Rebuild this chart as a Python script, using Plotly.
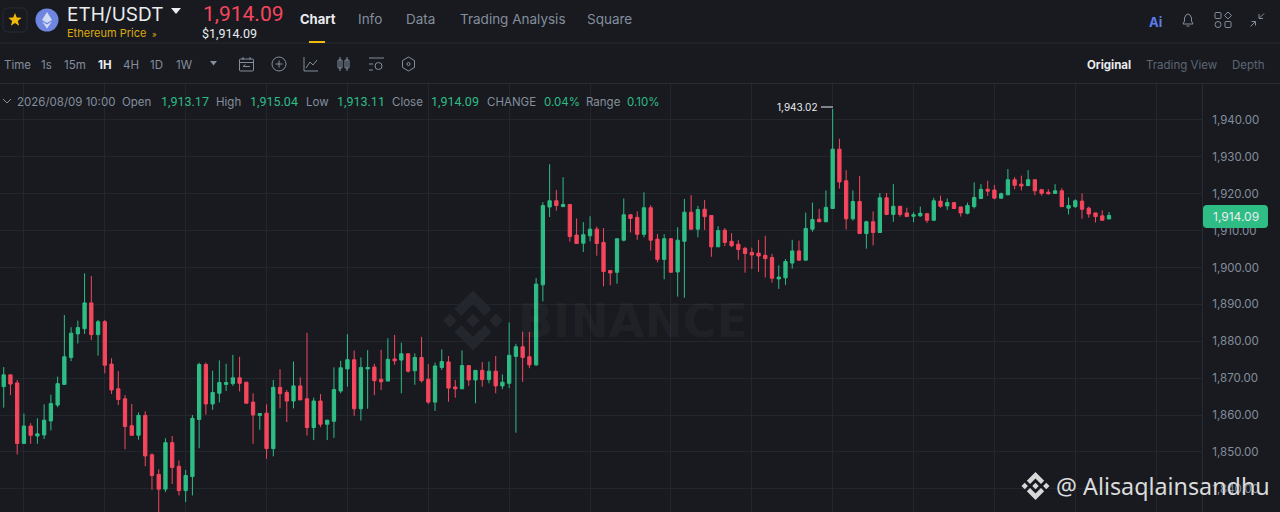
import math
import plotly.graph_objects as go

W, H = 1280, 512
BG = "#181A20"
GREEN = "#2EBD85"
RED = "#F6465D"
GREY = "#848E9C"
SEP = "#272B32"
GRID = "#22272D"
FONT = "Inter"
NUM_FONT = "Roboto"

opens = [1867.7, 1870.9, 1868.7, 1852.3, 1857.0, 1854.3, 1854.6, 1858.4, 1862.7, 1868.3, 1875.6, 1882.0, 1883.4, 1890.4, 1881.8,
         1885.3, 1873.8, 1867.1, 1864.4, 1857.1, 1854.5, 1859.9, 1849.2, 1843.9, 1839.9, 1852.5, 1846.1, 1839.5, 1843.3, 1858.8,
         1873.7, 1863.0, 1865.9, 1868.3, 1868.5, 1870.1, 1868.9, 1863.5, 1859.9, 1860.5, 1850.9, 1867.5, 1866.1, 1863.8, 1867.9,
         1864.4, 1856.6, 1863.8, 1857.5, 1858.3, 1866.5, 1872.5, 1875.0, 1861.7, 1872.5, 1873.0, 1869.7, 1869.2, 1875.2, 1874.9,
         1876.6, 1872.0, 1875.6, 1869.7, 1863.5, 1872.9, 1874.4, 1867.6, 1867.1, 1873.4, 1869.5, 1872.1, 1869.6, 1871.9, 1867.9,
         1868.6, 1875.9, 1878.5, 1875.8, 1873.6, 1895.3, 1916.4, 1918.1, 1916.5, 1917.1, 1908.8, 1906.6, 1908.6, 1910.4, 1906.8,
         1899.2, 1898.7, 1907.4, 1914.3, 1913.6, 1909.0, 1916.2, 1907.7, 1902.2, 1907.8, 1898.8, 1907.1, 1915.0, 1910.4, 1915.8,
         1914.1, 1905.6, 1910.1, 1907.1, 1906.3, 1905.2, 1904.1, 1903.9, 1903.3, 1902.7, 1896.9, 1897.2, 1901.2, 1904.5, 1902.0,
         1910.4, 1913.1, 1912.4, 1916.0, 1932.1, 1923.5, 1913.2, 1917.9, 1909.2, 1912.4, 1909.5, 1918.9, 1914.4, 1916.6, 1914.8,
         1913.9, 1914.0, 1914.6, 1912.8, 1918.0, 1916.7, 1917.6, 1916.4, 1914.7, 1916.5, 1918.7, 1921.2, 1921.0, 1918.8, 1919.7,
         1923.8, 1922.6, 1922.2, 1923.8, 1921.1, 1920.4, 1920.1, 1920.8, 1916.1, 1916.5, 1918.0, 1916.1, 1914.8, 1914.0, 1913.17]
highs = [1873.0, 1870.9, 1869.5, 1860.4, 1857.8, 1859.1, 1862.9, 1865.5, 1870.4, 1887.1, 1883.8, 1885.6, 1898.4, 1897.7, 1885.8,
         1885.8, 1875.4, 1871.9, 1865.4, 1863.0, 1860.7, 1861.0, 1849.6, 1845.3, 1853.7, 1854.3, 1847.7, 1845.1, 1860.0, 1874.2,
         1874.2, 1872.0, 1874.8, 1873.9, 1876.3, 1875.8, 1869.0, 1865.9, 1860.4, 1862.9, 1869.5, 1872.4, 1866.8, 1874.5, 1870.2,
         1882.3, 1864.7, 1865.7, 1858.7, 1872.9, 1874.7, 1881.9, 1877.5, 1875.6, 1877.6, 1873.9, 1877.7, 1880.8, 1881.7, 1879.6,
         1876.6, 1876.7, 1881.2, 1873.8, 1874.2, 1877.8, 1876.0, 1869.5, 1877.5, 1873.4, 1872.2, 1874.4, 1874.5, 1876.0, 1871.0,
         1885.1, 1879.3, 1882.6, 1882.5, 1897.2, 1917.7, 1928.0, 1921.0, 1924.5, 1917.2, 1913.3, 1912.3, 1913.9, 1911.1, 1910.7,
         1899.3, 1907.9, 1918.7, 1914.5, 1915.2, 1920.4, 1916.9, 1909.1, 1909.0, 1907.9, 1910.9, 1918.6, 1919.6, 1916.7, 1918.3,
         1914.1, 1911.2, 1910.7, 1909.3, 1907.4, 1905.6, 1905.4, 1907.5, 1908.6, 1903.7, 1900.6, 1902.3, 1907.5, 1907.3, 1914.9,
         1917.6, 1915.9, 1920.9, 1943.02, 1934.9, 1926.4, 1920.9, 1924.8, 1912.7, 1915.2, 1920.2, 1920.2, 1922.6, 1916.6, 1916.2,
         1915.0, 1916.5, 1914.7, 1918.9, 1919.5, 1918.7, 1917.7, 1916.5, 1917.6, 1923.1, 1922.6, 1923.5, 1922.4, 1920.3, 1926.7,
         1924.5, 1924.9, 1926.4, 1923.8, 1921.3, 1921.2, 1922.6, 1921.5, 1919.0, 1918.5, 1920.1, 1916.5, 1914.8, 1915.5, 1915.04]
lows = [1862.0, 1865.4, 1849.3, 1852.3, 1852.2, 1852.2, 1853.5, 1855.8, 1862.1, 1868.3, 1874.6, 1879.4, 1882.0, 1880.3, 1876.1,
        1871.3, 1865.7, 1862.7, 1850.7, 1854.5, 1853.3, 1846.1, 1839.7, 1833.0, 1839.1, 1841.3, 1838.2, 1836.4, 1838.2, 1851.0,
        1860.1, 1861.4, 1863.4, 1866.5, 1867.9, 1866.4, 1863.2, 1852.2, 1856.0, 1848.1, 1848.8, 1861.8, 1858.1, 1861.8, 1864.1,
        1854.4, 1853.2, 1856.7, 1853.2, 1853.8, 1865.9, 1867.7, 1859.8, 1858.5, 1861.7, 1865.4, 1866.8, 1869.2, 1873.6, 1865.9,
        1871.5, 1868.2, 1868.8, 1863.0, 1861.1, 1872.2, 1863.6, 1864.7, 1867.1, 1867.9, 1863.2, 1867.7, 1868.6, 1865.9, 1867.0,
        1867.3, 1855.2, 1869.0, 1872.7, 1873.3, 1890.8, 1913.7, 1915.4, 1916.5, 1907.0, 1906.5, 1904.2, 1907.1, 1903.2, 1894.9,
        1895.2, 1895.6, 1907.1, 1909.5, 1907.5, 1908.2, 1904.6, 1901.4, 1896.8, 1898.7, 1892.1, 1891.8, 1910.2, 1908.2, 1910.2,
        1902.9, 1905.6, 1905.8, 1905.5, 1902.1, 1898.6, 1899.6, 1898.8, 1897.3, 1895.9, 1894.2, 1895.3, 1899.7, 1901.8, 1901.9,
        1909.7, 1912.4, 1912.4, 1916.0, 1921.4, 1910.3, 1912.7, 1909.2, 1905.1, 1906.0, 1909.5, 1914.2, 1912.4, 1913.8, 1913.8,
        1912.3, 1913.8, 1912.1, 1912.8, 1916.2, 1915.6, 1916.0, 1913.8, 1914.4, 1916.0, 1918.7, 1919.4, 1918.5, 1918.6, 1919.7,
        1921.2, 1920.9, 1922.2, 1919.6, 1919.5, 1919.8, 1920.1, 1916.5, 1914.4, 1916.2, 1913.2, 1913.5, 1912.2, 1912.8, 1913.11]
closes = [1870.9, 1868.4, 1852.3, 1857.0, 1854.5, 1854.9, 1858.6, 1863.1, 1868.5, 1875.8, 1882.2, 1883.7, 1890.4, 1881.8, 1885.3,
          1873.5, 1866.8, 1864.2, 1856.9, 1854.5, 1859.9, 1848.9, 1843.6, 1839.9, 1852.5, 1845.8, 1839.5, 1843.6, 1859.1, 1873.7,
          1863.0, 1866.1, 1868.8, 1868.8, 1870.1, 1868.6, 1863.2, 1860.0, 1860.4, 1850.9, 1867.5, 1865.8, 1863.8, 1867.9, 1864.1,
          1856.6, 1863.8, 1857.5, 1858.6, 1866.9, 1872.8, 1875.0, 1861.7, 1872.9, 1872.9, 1869.3, 1869.0, 1875.1, 1874.7, 1876.6,
          1871.9, 1875.6, 1869.3, 1863.5, 1873.3, 1874.5, 1867.3, 1867.1, 1873.4, 1869.5, 1872.1, 1869.6, 1871.9, 1867.9, 1868.9,
          1876.2, 1878.5, 1875.6, 1873.6, 1895.5, 1916.8, 1918.1, 1916.8, 1917.1, 1908.4, 1906.5, 1908.9, 1910.4, 1906.5, 1898.9,
          1898.5, 1907.8, 1914.3, 1913.3, 1909.0, 1916.2, 1907.4, 1902.2, 1907.8, 1898.7, 1907.4, 1915.0, 1910.4, 1915.7, 1913.8,
          1905.6, 1910.0, 1906.8, 1905.9, 1904.9, 1903.8, 1903.4, 1903.1, 1902.4, 1897.1, 1897.4, 1901.6, 1904.5, 1902.0, 1910.6,
          1913.0, 1912.4, 1916.3, 1932.1, 1923.2, 1913.2, 1917.9, 1909.2, 1912.4, 1909.5, 1918.9, 1914.4, 1916.6, 1914.4, 1913.8,
          1914.3, 1914.7, 1912.8, 1918.1, 1916.6, 1917.6, 1916.0, 1914.8, 1916.8, 1919.0, 1921.2, 1920.7, 1918.8, 1920.0, 1923.8,
          1922.3, 1922.1, 1923.8, 1920.8, 1920.1, 1920.0, 1920.8, 1916.5, 1916.8, 1918.1, 1915.8, 1914.5, 1913.8, 1912.8, 1914.09]
candle_ids = list(range(len(opens)))

price_ticks = [1840, 1850, 1860, 1870, 1880, 1890, 1900, 1910, 1920, 1930, 1940]
last_price = "1,914.09"
peak_price = 1943.02

# label rows: text, left px, y px, colour, size, bold, font
header_labels = [
    ("ETH/USDT", 67, 14, "#EAECEF", 19, False, FONT),
    ("1,914.09", 203, 14, RED, 21, False, NUM_FONT),
    ("Ethereum Price", 67, 33, "#DDAA0C", 11, False, FONT),
    ("»", 152, 34, "#DDAA0C", 8, False, FONT),
    ("$1,914.09", 202, 33, "#EAECEF", 12.5, False, NUM_FONT),
    ("Chart", 300, 19, "#EAECEF", 13, True, FONT),
    ("Info", 358, 19, GREY, 13.5, False, FONT),
    ("Data", 406, 19, GREY, 13.5, False, FONT),
    ("Trading Analysis", 460, 19, GREY, 13.5, False, FONT),
    ("Square", 587, 19, GREY, 13.5, False, FONT),
    ("Ai", 1149, 22, "#5C7CE8", 13, True, FONT),
]
toolbar_labels = [
    ("Time", 4, GREY, False), ("1s", 41, GREY, False), ("15m", 64, GREY, False), ("1H", 98, "#EAECEF", True),
    ("4H", 123, GREY, False), ("1D", 150, GREY, False), ("1W", 176, GREY, False),
    ("Original", 1087, "#EAECEF", True), ("Trading View", 1146, "#5E6673", False), ("Depth", 1232, "#5E6673", False),
]
stat_labels = [
    ("2026/08/09 10:00", 17, GREY, FONT, 11.5), ("Open", 122, GREY, FONT, 11.5), ("1,913.17", 161, GREEN, NUM_FONT, 12.5),
    ("High", 216, GREY, FONT, 11.5), ("1,915.04", 250, GREEN, NUM_FONT, 12.5), ("Low", 306, GREY, FONT, 11.5),
    ("1,913.11", 337, GREEN, NUM_FONT, 12.5), ("Close", 392, GREY, FONT, 11.5), ("1,914.09", 431, GREEN, NUM_FONT, 12.5),
    ("CHANGE", 487, GREY, FONT, 11.5), ("0.04%", 544, GREEN, FONT, 11.5), ("Range", 586, GREY, FONT, 11.5),
    ("0.10%", 627, GREEN, FONT, 11.5),
]


def px(x):
    return x / W


def py(y):
    return 1 - y / H


def path_str(points, close=True):
    s = "M " + " L ".join(f"{px(x):.5f} {py(y):.5f}" for x, y in points)
    return s + " Z" if close else s


fig = go.Figure(go.Candlestick(
    x=candle_ids, open=opens, high=highs, low=lows, close=closes,
    increasing=dict(line=dict(color=GREEN, width=1), fillcolor=GREEN),
    decreasing=dict(line=dict(color=RED, width=1), fillcolor=RED),
    whiskerwidth=0, hoverinfo="skip", showlegend=False,
))
fig.update_layout(
    width=W, height=H, autosize=False, margin=dict(l=0, r=0, t=0, b=0),
    paper_bgcolor=BG, plot_bgcolor=BG, boxgap=0.3, showlegend=False,
    font=dict(family=FONT, color=GREY),
    xaxis=dict(domain=[0, 1202 / W], range=[-0.55, 177.8], tick0=3, dtick=12, showticklabels=False,
               gridcolor=GRID, gridwidth=1, zeroline=False, rangeslider=dict(visible=False), showline=False),
    yaxis=dict(domain=[0, 1 - 84 / H], range=[1833.7, 1949.76], side="right", tickvals=price_ticks,
               tickformat=",.2f", tickfont=dict(size=11.5, color=GREY), ticks="outside", ticklen=7,
               tickcolor="rgba(0,0,0,0)", gridcolor=GRID, gridwidth=1, zeroline=False,
               showline=True, linecolor=SEP, linewidth=1),
)


def text(s, x, y, color, size, bold=False, anchor="left", family=FONT):
    fig.add_annotation(text=f"<b>{s}</b>" if bold else s, x=px(x), y=py(y), xref="paper", yref="paper",
                       xanchor=anchor, yanchor="middle", showarrow=False, borderpad=0, borderwidth=0,
                       font=dict(family=family, size=size, color=color))


def line(x0, y0, x1, y1, color=GREY, width=1):
    fig.add_shape(type="line", xref="paper", yref="paper", x0=px(x0), y0=py(y0), x1=px(x1), y1=py(y1),
                  line=dict(color=color, width=width))


def poly(points, fill=None, color=None, width=1, close=True, layer="above"):
    fig.add_shape(type="path", path=path_str(points, close), xref="paper", yref="paper", layer=layer,
                  fillcolor=fill if fill else "rgba(0,0,0,0)",
                  line=dict(color=color if color else "rgba(0,0,0,0)", width=width if color else 0))


def circle(cx, cy, r, fill=None, color=None, width=1):
    fig.add_shape(type="circle", xref="paper", yref="paper", x0=px(cx - r), x1=px(cx + r), y0=py(cy - r), y1=py(cy + r),
                  fillcolor=fill if fill else "rgba(0,0,0,0)",
                  line=dict(color=color if color else "rgba(0,0,0,0)", width=width if color else 0))


def round_rect(x0, y0, x1, y1, r, fill=None, color=None):
    s = (f"M {px(x0 + r):.5f} {py(y0):.5f} L {px(x1 - r):.5f} {py(y0):.5f} Q {px(x1):.5f} {py(y0):.5f} {px(x1):.5f} {py(y0 + r):.5f} "
         f"L {px(x1):.5f} {py(y1 - r):.5f} Q {px(x1):.5f} {py(y1):.5f} {px(x1 - r):.5f} {py(y1):.5f} "
         f"L {px(x0 + r):.5f} {py(y1):.5f} Q {px(x0):.5f} {py(y1):.5f} {px(x0):.5f} {py(y1 - r):.5f} "
         f"L {px(x0):.5f} {py(y0 + r):.5f} Q {px(x0):.5f} {py(y0):.5f} {px(x0 + r):.5f} {py(y0):.5f} Z")
    fig.add_shape(type="path", path=s, xref="paper", yref="paper",
                  fillcolor=fill if fill else "rgba(0,0,0,0)",
                  line=dict(color=color if color else "rgba(0,0,0,0)", width=1 if color else 0))


def binance_logo(cx, cy, r, fill, layer="above"):
    d = 0.23 * r
    for ox in (-0.77 * r, 0, 0.77 * r):
        poly([(cx + ox, cy - d), (cx + ox + d, cy), (cx + ox, cy + d), (cx + ox - d, cy)], fill=fill, layer=layer)
    for sgn in (-1, 1):
        poly([(cx, cy + sgn * r), (cx + 0.62 * r, cy + sgn * 0.38 * r), (cx + 0.39 * r, cy + sgn * 0.15 * r),
              (cx, cy + sgn * 0.54 * r), (cx - 0.39 * r, cy + sgn * 0.15 * r), (cx - 0.62 * r, cy + sgn * 0.38 * r)],
             fill=fill, layer=layer)


# panel separators
line(0, 43, W, 43, SEP)
line(0, 83.5, W, 83.5, SEP)
line(309, 42, 325, 42, "#F0B90B", 2)

# big centre watermark
binance_logo(473, 320.5, 30, "#23262D", layer="below")
text("BINANCE", 518, 321, "rgba(255,255,255,0.045)", 46, True, family="DejaVu Sans")

# star button and coin icon
round_rect(3, 8, 27, 32, 5, color="#272B32")
poly([(15 + (7 if i % 2 == 0 else 3) * math.sin(i * math.pi / 5), 20 - (7 if i % 2 == 0 else 3) * math.cos(i * math.pi / 5))
      for i in range(10)], fill="#F0B90B")
circle(47, 20, 11.5, fill="#6F86E0")
poly([(47, 12), (52, 20), (47, 23), (42, 20)], fill="#D3DAF3")
poly([(47, 24.5), (52, 21.5), (47, 28.5), (42, 21.5)], fill="#D3DAF3")
poly([(171, 8), (181, 8), (176, 14)], fill="#EAECEF")

for label, x, y, color, size, bold, family in header_labels:
    text(label, x, y, color, size, bold, family=family)
for label, x, color, bold in toolbar_labels:
    text(label, x, 64.5, color, 11.5, bold)
for label, x, color, family, size in stat_labels:
    text(label, x, 101.5, color, size, family=family)

# toolbar icons
poly([(210, 61), (217, 61), (213.5, 65.5)], fill=GREY)
round_rect(239.5, 59, 253.5, 71, 1, color=GREY)
line(239.5, 62.5, 253.5, 62.5)
line(243, 57, 243, 60)
line(250, 57, 250, 60)
line(243, 66.5, 250, 66.5)
line(243, 66.5, 245.5, 64.5)
circle(279, 64, 7, color=GREY)
line(275.5, 64, 282.5, 64)
line(279, 60.5, 279, 67.5)
poly([(304, 57), (304, 71), (318, 71)], color=GREY, close=False)
poly([(306, 68), (310, 62), (313, 65), (317, 60)], color=GREY, close=False)
round_rect(338, 60, 342, 68, 0.5, color=GREY)
round_rect(345, 60, 349, 68, 0.5, color=GREY)
line(340, 57, 340, 71)
line(347, 57, 347, 71)
line(369, 58, 384, 58)
line(369, 64, 373, 64)
line(369, 70, 373, 70)
circle(378.5, 66, 3.5, color=GREY)
poly([(408.5, 57), (414.5, 60.5), (414.5, 67.5), (408.5, 71), (402.5, 67.5), (402.5, 60.5)], color=GREY)
circle(408.5, 64, 1.5, color=GREY)

# stats chevron
poly([(3, 99), (7, 103), (11, 99)], color=GREY, close=False)

# right icons
poly([(1183, 24), (1184.5, 21), (1184.5, 18), (1186, 15), (1188, 14), (1190, 15), (1191.5, 18), (1191.5, 21), (1193, 24)],
     color=GREY, close=True)
line(1186.5, 26, 1189.5, 26)
round_rect(1215, 12.5, 1221, 18.5, 1, color=GREY)
poly([(1228, 12), (1231.5, 15.5), (1228, 19), (1224.5, 15.5)], color=GREY)
circle(1218, 24.5, 3, color=GREY)
round_rect(1225, 21.5, 1231, 27.5, 1, color=GREY)
line(1250.5, 26.5, 1255, 22, GREY)
poly([(1251.5, 21.5), (1255.5, 21.5), (1255.5, 25.5)], color=GREY, close=False)
line(1264, 13.5, 1259.5, 18, GREY)
poly([(1259, 14), (1259, 18.5), (1263, 18.5)], color=GREY, close=False)

# peak marker
text(f"{peak_price:,.2f}", 818, 107, "#EAECEF", 10, anchor="right")
line(821, 107, 833, 107, "#EAECEF", 1)

# last price tag
round_rect(1203, 205, 1268, 228, 4, fill=GREEN)
text(last_price, 1235.5, 216.5, "#EAECEF", 12, anchor="center")

# corner watermark
binance_logo(1035.5, 486, 14, "#D8D8D8")
text("@ Alisaqlainsandhu", 1056, 486, "#DADADA", 23.3, family="Noto Sans")

fig.write_html("out.html", config=dict(displayModeBar=False),
               post_script="document.body.style.margin='0';document.body.style.overflow='hidden';")
